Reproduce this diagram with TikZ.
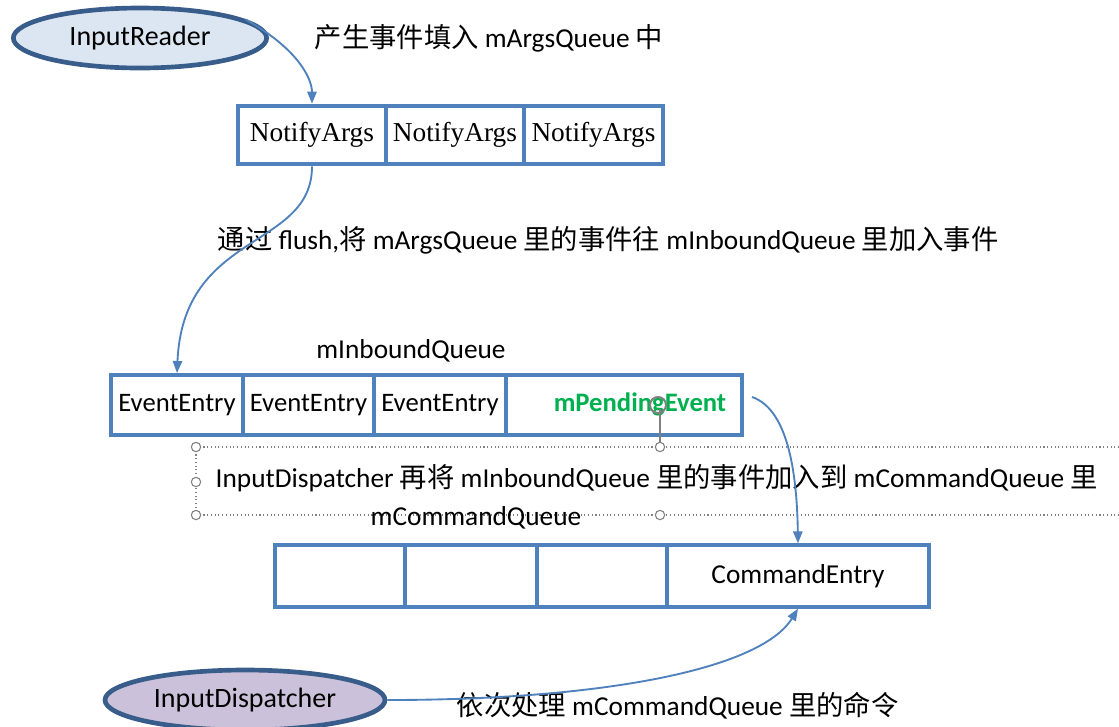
\documentclass[tikz,border=0pt]{standalone}
\usepackage{fontspec}
\setmainfont{Carlito}
\newfontfamily\cjk{Noto Sans CJK SC}
\newfontfamily\tms{Liberation Serif}
\usetikzlibrary{shapes.geometric,arrows.meta}
\definecolor{qblue}{HTML}{4F81BD}
\definecolor{edark}{HTML}{385D8A}
\definecolor{efill}{HTML}{DCE6F2}
\definecolor{pfill}{HTML}{CCC1DA}
\definecolor{pgreen}{HTML}{00B050}
\begin{document}
\begin{tikzpicture}[x=0.75pt,y=-0.75pt,
  cell/.style={draw=qblue,line width=3pt,minimum height=44pt,inner sep=0pt},
  ell/.style={ellipse,draw=edark,line width=3.5pt,inner sep=0pt},
  arr/.style={draw=qblue,line width=1.4pt,-{Triangle[length=9pt,width=7pt]}},
  lbl/.style={font=\fontsize{20.5}{23}\selectfont},
  handle/.style={circle,draw=gray,fill=white,minimum size=7pt,inner sep=0pt,line width=0.8pt}]
\useasboundingbox (0,0) rectangle (1119,726);
\node[ell,fill=efill,minimum width=190pt,minimum height=45pt,font=\fontsize{21}{23}\selectfont] (ir) at (140,38) {InputReader};
\node[lbl,anchor=west] (t1) at (310,38) {{\cjk 产生事件填入} mArgsQueue {\cjk 中}};
\foreach \n/\a/\b in {n1/238/386,n2/386/524,n3/524/663}
  \node[cell,minimum width={(\b-\a)*0.75pt},font=\tms\fontsize{20.5}{23}\selectfont] (\n) at ({(\a+\b)/2},135) {NotifyArgs};
\node[lbl,anchor=west] (t2) at (213,240) {{\cjk 通过} flush,{\cjk 将} mArgsQueue {\cjk 里的事件往} mInboundQueue {\cjk 里加入事件}};
\node[lbl] (t3) at (411,351) {mInboundQueue};
\foreach \n/\a/\b/\t in {e1/111/243/EventEntry,e2/243/374/EventEntry,e3/374/506/EventEntry,e4/506/742/{}}
  \node[cell,minimum width={(\b-\a)*0.75pt},minimum height=45pt,font=\fontsize{20}{22}\selectfont] (\n) at ({(\a+\b)/2},405) {\t};
\node[font=\bfseries\fontsize{20}{22}\selectfont,text=pgreen] (pe) at (640,404) {mPendingEvent};
% selection frame
\draw[gray,dotted,line width=0.8pt] (196,447) -- (1119,447) (196,515) -- (1119,515) (196,447) -- (196,515);
\draw[gray,line width=0.8pt] (660,409) -- (660,447);
\node[circle,draw=gray,line width=1.5pt,minimum size=12pt,inner sep=0pt] (rot) at (658,405) {};
\foreach \p/\q in {196/447,196/482,196/515,660/447,660/515}
  \node[handle] at (\p,\q) {};
\node[lbl,anchor=west] (t4) at (211,478) {InputDispatcher {\cjk 再将} mInboundQueue {\cjk 里的事件加入到} mCommandQueue {\cjk 里}};
\node[lbl] (t5) at (476,518) {mCommandQueue};
\foreach \n/\a/\b/\t in {c1/275/405/{},c2/405/537/{},c3/537/667/{},c4/667/929/CommandEntry}
  \node[cell,minimum width={(\b-\a)*0.75pt},minimum height=46pt,font=\fontsize{20.5}{23}\selectfont] (\n) at ({(\a+\b)/2},576) {\t};
\node[ell,fill=pfill,minimum width=210pt,minimum height=45pt,font=\fontsize{21}{23}\selectfont] (id) at (245,700) {InputDispatcher};
\node[lbl,anchor=west] (t6) at (452,706) {{\cjk 依次处理} mCommandQueue {\cjk 里的命令}};
% arrows
\draw[arr] (ir.10) .. controls (300,50) and (312,80) .. (n1.north);
\draw[arr] (n1.south) .. controls (312,250) and (183,230) .. (e1.north);
\draw[arr] (e4.east) ++(8,-8) coordinate (s4) .. controls (790,410) and (797,480) .. (c4.north);
\draw[arr] (id.east) .. controls (600,700) and (760,670) .. (c4.south);
\end{tikzpicture}
\end{document}
